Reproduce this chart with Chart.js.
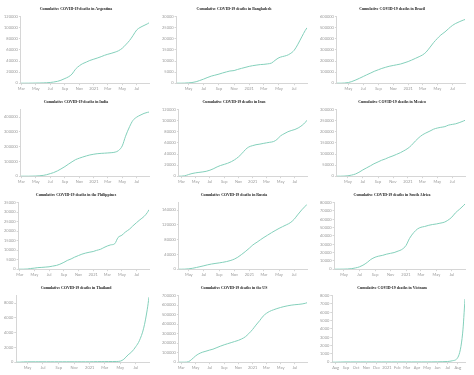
<!DOCTYPE html>
<html>
<head>
<meta charset="utf-8">
<script src="https://cdn.jsdelivr.net/npm/chart.js@4.4.0/dist/chart.umd.min.js"></script>
<style>
html, body { margin:0; padding:0; background:#fff; }
#grid { display:grid; grid-template-columns:158px 158px 158px; grid-auto-rows:93px; width:474px; height:375px; }
.cell { position:relative; width:158px; height:93px; }
</style>
</head>
<body>
<div id="grid"></div>
<script>
// ---------------------------
// Data (semi-monthly cumulative deaths)
// ---------------------------
const dates = [
  '2020-02-15','2020-03-01','2020-03-15','2020-04-01','2020-04-15','2020-05-01','2020-05-15',
  '2020-06-01','2020-06-15','2020-07-01','2020-07-15','2020-08-01','2020-08-15','2020-09-01',
  '2020-09-15','2020-10-01','2020-10-15','2020-11-01','2020-11-15','2020-12-01','2020-12-15',
  '2021-01-01','2021-01-15','2021-02-01','2021-02-15','2021-03-01','2021-03-15','2021-04-01',
  '2021-04-15','2021-05-01','2021-05-15','2021-06-01','2021-06-15','2021-07-01','2021-07-15',
  '2021-08-01','2021-08-15','2021-08-22'
];
const endDate = '2021-08-22';

const countries = ['Argentina','Bangladesh','Brazil','India','Iran','Mexico',
  'the Philippines','Russia','South Africa','Thailand','the US','Vietnam'];
const startDates = ['2020-02-28','2020-03-14','2020-03-15','2020-02-28','2020-02-19','2020-03-17',
  '2020-02-25','2020-03-22','2020-03-25','2020-03-18','2020-02-20','2020-07-22'];
const yMax  = [120000, 30000, 600000, 450000, 120000, 300000, 35000, 180000, 80000, 9000, 700000, 8000];
const yStep = [ 20000,  5000, 100000,  50000,  20000,  50000,  5000,  20000, 10000, 1000, 100000, 1000];

const argentina = [null,null,2,30,130,250,350,550,850,1300,2100,3400,
  5300,8500,11300,16500,25000,31500,35300,38300,41000,43400,
  45300,47900,50300,52200,53800,56100,58500,63000,69000,77100,
  85600,96000,100400,104100,107000,108900];
const bangladesh = [null,null,null,6,50,170,300,670,1200,1850,2500,3200,
  3600,4100,4600,5100,5500,5700,6200,6700,7100,7600,
  7900,8200,8400,8500,8700,9100,10300,11500,12000,12500,
  13300,14800,17300,20900,23800,25000];
const brazil = [null,null,null,200,1700,6000,14800,29900,43900,60600,75400,92500,
  107200,121500,133100,144000,152500,160000,166000,173100,182800,195400,
  208200,225100,239300,255000,279300,325300,365400,404300,434700,462800,
  490700,520100,539000,556400,569000,574500];
const india = [null,null,2,50,420,1150,2750,5400,9900,17400,24300,36500,
  49000,65300,80800,97500,111300,122100,129600,137600,143700,148800,
  152100,154500,155700,157300,158900,162900,173100,205000,270300,335100,
  377000,399500,412000,424800,431600,433900];
const iran = [null,54,720,3040,4780,6090,6850,7800,8800,10800,13200,16800,
  19200,21400,23300,26200,29600,34900,40600,48200,52700,55200,
  56800,57900,59100,60200,61200,62600,66300,72900,76400,80200,
  82300,84300,87000,91800,97200,101000];
const mexico = [null,null,null,30,450,1900,4800,10000,17600,28500,36900,47000,
  55900,64400,71700,78100,84900,91800,98300,106000,114300,125800,
  139000,159500,174200,186200,194700,203700,211700,217200,220400,223600,
  230100,233600,236300,242500,248600,252100];
const philippines = [null,null,12,90,360,570,830,960,1100,1270,1600,2000,
  2600,3600,4600,5400,6300,7200,7900,8500,8900,9300,
  9900,10500,11400,12200,12800,13400,16700,17900,19500,21000,
  22700,24500,26000,27700,29800,31300];
const russia = [null,null,null,17,170,1070,2400,4700,6800,9300,11700,14000,
  15500,17100,18600,20700,23200,27300,32400,40100,47400,57000,
  65600,73200,79800,86100,91900,99000,104400,110400,115100,120600,
  125600,135000,147000,160700,170500,175300];
const southAfrica = [null,null,null,5,34,100,250,700,1500,2800,4800,8200,
  11700,14400,15700,16700,18000,19100,20000,21800,23600,28500,
  37100,44200,48300,50400,51300,52800,53700,54400,55300,56500,
  58800,62600,67700,72200,76200,78400];
const thailand = [null,null,null,12,40,54,56,57,58,58,58,58,
  58,58,58,59,59,59,59,59,59,60,
  70,76,80,83,90,94,97,140,400,1000,
  1400,2100,2900,4600,7100,8800];
const us = [null,1,60,5100,30000,65000,88000,106000,116000,128000,137000,154000,
  168000,183000,194000,206000,217000,230000,245000,268000,300000,345000,
  390000,440000,485000,514000,535000,552000,564000,576000,585000,594000,
  600000,605000,608000,613000,620000,626000];
const vietnam = [null,null,null,null,null,null,null,null,null,null,null,3,
  20,34,35,35,35,35,35,35,35,35,
  35,35,35,35,35,35,35,35,40,47,
  60,84,170,600,3500,7600];

const series = [argentina, bangladesh, brazil, india, iran, mexico,
  philippines, russia, southAfrica, thailand, us, vietnam];

// tick labels on the time axis
const tickMonths = ['2020-03-01','2020-05-01','2020-07-01','2020-09-01','2020-11-01',
  '2021-01-01','2021-03-01','2021-05-01','2021-07-01'];
const tickMonthsVietnam = ['2020-08-01','2020-09-01','2020-10-01','2020-11-01','2020-12-01',
  '2021-01-01','2021-02-01','2021-03-01','2021-04-01','2021-05-01','2021-06-01','2021-07-01','2021-08-01'];
const monthNames = ['Jan','Feb','Mar','Apr','May','Jun','Jul','Aug','Sep','Oct','Nov','Dec'];

// ---------------------------
// Helpers
// ---------------------------
const T0 = Date.parse('2020-01-01');
function dayNum(s){ return (Date.parse(s) - T0) / 864e5; }
function dayLabel(v){
  const d = new Date(T0 + v * 864e5);
  const m = d.getUTCMonth();
  return m === 0 ? String(d.getUTCFullYear()) : monthNames[m];
}

const LINE = '#84d0bb';
const AXIS = '#d6d6d6';
const TICK = '#9a9a9a';

// ---------------------------
// Charts
// ---------------------------
const grid = document.getElementById('grid');
countries.forEach((name, i)=>{
  const cell = document.createElement('div');
  cell.className = 'cell';
  const cv = document.createElement('canvas');
  cell.appendChild(cv);
  grid.appendChild(cell);

  const start = dayNum(startDates[i]);
  const pts = [{ x:start, y:0 }];
  dates.forEach((d, k)=>{
    const v = series[i][k];
    if (v !== null && dayNum(d) > start) pts.push({ x:dayNum(d), y:v });
  });
  const ticks = (name === 'Vietnam' ? tickMonthsVietnam : tickMonths).map(dayNum);

  new Chart(cv.getContext('2d'), {
    type:'line',
    data:{ datasets:[{ data:pts, borderColor:LINE, borderWidth:1, pointRadius:0,
      cubicInterpolationMode:'monotone', fill:false }] },
    options:{
      responsive:true, maintainAspectRatio:false, animation:false,
      layout:{ padding:{ left:3, right:9, top:0, bottom:1 } },
      plugins:{
        legend:{ display:false }, tooltip:{ enabled:false },
        title:{ display:true, text:'Cumulative COVID-19 deaths in ' + name,
          color:'#222', font:{ family:'Liberation Serif', size:3.9, weight:'bold' },
          padding:{ top:7, bottom:5 } }
      },
      scales:{
        x:{
          type:'linear', min:start, max:dayNum(endDate),
          afterBuildTicks: s => { s.ticks = ticks.filter(v=>v>=s.min && v<=s.max).map(v=>({ value:v })); },
          ticks:{ autoSkip:false, maxRotation:0, color:TICK, padding:1,
            font:{ family:'Lato', size:4 }, callback: v => dayLabel(v) },
          grid:{ drawOnChartArea:false, tickLength:2, color:AXIS },
          border:{ color:AXIS }
        },
        y:{
          min:0, max:yMax[i],
          ticks:{ stepSize:yStep[i], color:TICK, padding:1,
            font:{ family:'Lato', size:4 }, callback: v => String(v) },
          grid:{ drawOnChartArea:false, tickLength:2, color:AXIS },
          border:{ color:AXIS }
        }
      }
    }
  });
});
</script>
</body>
</html>
